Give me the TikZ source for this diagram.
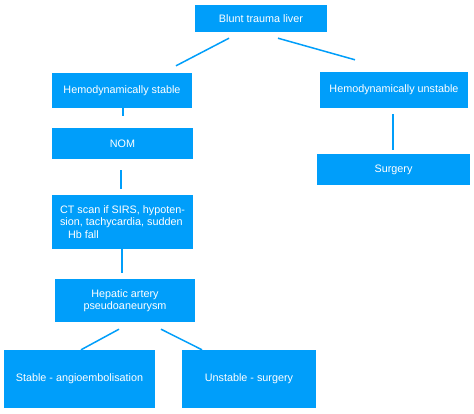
\documentclass[tikz,border=0pt]{standalone}
\usepackage{fontspec}
\setmainfont{Liberation Sans}
\definecolor{boxblue}{RGB}{0,158,250}
\begin{document}
\begin{tikzpicture}[x=1pt,y=-1pt,
    box/.style={fill=boxblue,text=white,inner sep=0pt,align=center,font=\fontsize{10.8}{12.2}\selectfont},
    link/.style={boxblue,line width=1.5pt}]
\useasboundingbox (0,0) rectangle (474,414);
% boxes
\node[box,minimum width=132pt,minimum height=27pt] (blunt) at (261,18.5) {Blunt trauma liver};
\node[box,minimum width=140pt,minimum height=35pt] (stab) at (122,90.5) {Hemodynamically stable};
\node[box,minimum width=148pt,minimum height=36pt] (unstab) at (394,90) {Hemodynamically unstable};
\node[box,minimum width=141pt,minimum height=31pt] (nom) at (122.5,143.5) {NOM};
\node[box,minimum width=153pt,minimum height=31pt] (surg) at (393.5,169.5) {Surgery};
\node[box,align=left,minimum width=141pt,minimum height=54pt] (ct) at (122.5,222) {CT scan if SIRS, hypoten-\\sion, tachycardia, sudden\\\hspace*{8pt}Hb fall};
\node[box,minimum width=140pt,minimum height=43pt] (hep) at (125,300.5) {Hepatic artery\\pseudoaneurysm};
\node[box,minimum width=151pt,minimum height=58pt] (angio) at (79.5,379) {Stable - angioembolisation};
\node[box,minimum width=134pt,minimum height=58pt] (opsurg) at (249,379) {Unstable - surgery};
% connectors
\draw[link] ([shift={(-32,6)}]blunt.south) -- ([shift={(54,-7)}]stab.north);
\draw[link] ([shift={(17,6)}]blunt.south) -- ([shift={(-39,-12)}]unstab.north);
\draw[link] ([shift={(1,0)}]stab.south) -- ([shift={(0.5,-12)}]nom.north);
\draw[link] ([shift={(-1,6)}]unstab.south) -- ([shift={(-0.5,-4)}]surg.north);
\draw[link] ([shift={(-1.5,11)}]nom.south) -- ([shift={(-1.5,-6)}]ct.north);
\draw[link] ([shift={(-0.5,0)}]ct.south) -- ([shift={(-3,-6)}]hep.north);
\draw[link] ([shift={(-6,7)}]hep.south) -- ([shift={(1.5,0)}]angio.north);
\draw[link] ([shift={(36,7)}]hep.south) -- ([shift={(-47,0)}]opsurg.north);
\end{tikzpicture}
\end{document}
